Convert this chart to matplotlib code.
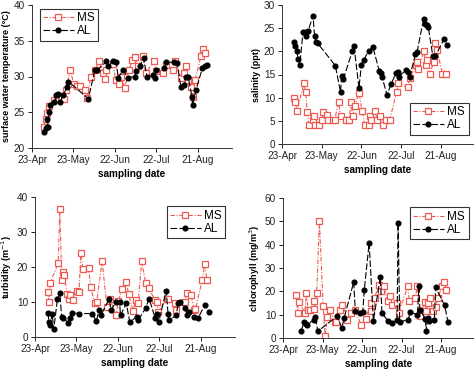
import matplotlib
matplotlib.use("Agg")
import matplotlib.pyplot as plt

plt.rcParams['font.family'] = ['Liberation Sans', 'DejaVu Sans']

# days since 23-Apr
tick_days = [0, 30, 60, 90, 120]
tick_labels = ['23-Apr', '23-May', '22-Jun', '22-Jul', '21-Aug']

# surface water temperature
temp_ms_d = [8.4, 10.1, 10.8, 12.5, 15.6, 18.5, 19.9, 21.1, 23.3, 24.7, 27.6, 30.5, 32.9, 34.8,
             38.4, 40.1, 42.5, 45.6, 48.7, 51.6, 52.8, 54.0, 58.8, 60.7, 62.9, 64.8, 67.2, 70.3,
             72.7, 74.4, 76.8, 80.4, 82.3, 88.8, 90.0, 94.8, 97.2, 102.0, 103.9, 108.0, 110.4,
             111.6, 112.8, 115.2, 116.4, 118.3, 122.4, 124.1, 125.5]
temp_ms = [23.0, 24.0, 24.9, 25.9, 26.7, 27.0, 26.7, 27.2, 26.8, 28.1, 30.9, 28.9, 28.7, 28.7,
           28.1, 27.0, 29.9, 30.9, 32.1, 30.5, 29.6, 30.9, 31.8, 29.5, 29.0, 30.0, 28.4, 30.9,
           32.3, 32.7, 31.4, 32.9, 30.5, 32.2, 30.7, 30.5, 31.6, 30.9, 32.1, 29.8, 30.5,
           31.4, 29.5, 28.6, 27.2, 29.5, 32.8, 33.8, 33.3]
temp_al_d = [8.9, 9.8, 10.8, 11.3, 12.5, 13.2, 16.3, 17.5, 19.2, 20.4, 22.8, 25.2, 26.4, 40.8,
             45.6, 47.3, 54.0, 55.2, 58.8, 61.2, 62.4, 66.0, 69.6, 74.4, 75.6, 78.0, 80.9, 83.3,
             87.6, 89.3, 90.0, 96.0, 97.2, 103.2, 105.1, 108.0, 110.4, 111.6, 113.3, 115.9,
             116.4, 118.8, 123.6, 125.5, 127.2]
temp_al = [22.3, 22.8, 24.0, 23.0, 25.1, 26.0, 26.5, 27.4, 27.5, 26.5, 27.4, 28.5, 29.3, 26.9,
           30.9, 30.9, 32.1, 31.4, 32.1, 32.0, 29.8, 30.9, 29.8, 30.0, 30.7, 31.4, 32.6, 30.0,
           30.2, 29.8, 30.9, 31.2, 32.0, 32.0, 31.9, 28.5, 28.8, 30.0, 29.9, 27.2,
           26.0, 28.1, 31.2, 31.5, 31.6]

# salinity
sal_ms_d = [9.3, 10.0, 11.2, 16.6, 17.8, 19.0, 20.3, 23.2, 24.4, 25.1, 27.6, 30.5, 31.2, 33.7,
            34.9, 38.5, 39.8, 42.7, 44.2, 48.3, 50.8, 52.0, 53.4, 54.9, 58.1, 60.5, 62.5, 65.4,
            66.6, 67.3, 70.3, 72.0, 73.9, 76.4, 78.8, 81.3, 86.6, 87.8, 95.2, 96.4, 101.3, 102.0,
            103.0, 107.4, 108.6, 109.8, 111.5, 114.7, 115.9, 117.1, 121.2, 123.6]
sal_ms = [10.0, 9.1, 7.1, 13.1, 11.3, 7.0, 4.1, 5.2, 6.0, 4.1, 4.1, 5.2, 7.0, 6.3,
          5.2, 5.2, 5.2, 9.1, 6.0, 5.2, 5.2, 9.1, 6.0, 8.1, 11.1, 7.1, 4.1, 4.1,
          6.0, 5.2, 7.1, 5.2, 6.0, 4.1, 5.2, 5.2, 11.2, 13.1, 12.2, 14.2, 17.1, 17.8,
          16.1, 20.1, 17.1, 18.1, 15.1, 17.8, 21.9, 20.3, 15.1, 15.1]
sal_al_d = [9.3, 10.0, 11.0, 12.4, 13.4, 15.9, 17.8, 18.5, 19.8, 23.4, 24.6, 25.6, 27.1, 40.3,
            44.2, 45.1, 46.4, 53.2, 54.4, 58.1, 60.0, 61.7, 65.4, 68.6, 73.4, 74.4, 75.6, 79.3,
            82.5, 86.1, 87.4, 88.1, 93.9, 95.2, 96.4, 100.8, 102.0, 106.9, 108.1, 109.3, 110.5,
            113.9, 115.9, 122.2, 124.7]
sal_al = [22.1, 21.2, 20.1, 18.3, 17.1, 24.2, 23.3, 24.2, 24.4, 27.7, 23.3, 22.1, 21.7, 16.9,
          11.2, 14.7, 14.1, 20.1, 21.2, 12.1, 17.1, 18.1, 20.1, 21.0, 15.8, 15.3, 14.4, 10.6,
          13.0, 15.3, 15.6, 14.5, 16.0, 15.6, 14.4, 19.4, 19.9, 26.9, 25.9, 25.7, 25.2,
          19.0, 19.0, 22.6, 21.4]

# turbidity
turb_ms_d = [9.4, 10.1, 11.1, 16.8, 18.0, 19.3, 20.5, 21.0, 23.5, 24.7, 25.4, 27.4, 30.4, 31.9,
             33.3, 34.8, 38.8, 40.3, 43.2, 44.7, 48.7, 52.1, 54.1, 58.8, 60.5, 63.0, 66.2, 67.9,
             71.1, 72.9, 74.8, 77.3, 80.3, 82.3, 87.2, 88.4, 89.2, 95.8, 96.5, 101.5, 102.5,
             109.0, 110.2, 113.1, 115.6, 116.3, 121.3, 123.0, 124.7]
turb_ms = [12.9, 10.0, 15.5, 21.1, 36.7, 16.3, 18.7, 17.7, 12.2, 10.8, 11.9, 10.5, 13.1, 12.9,
           23.9, 19.4, 19.8, 14.4, 9.6, 10.0, 21.7, 8.6, 11.0, 6.4, 10.2, 13.7, 15.8, 12.2,
           7.4, 10.5, 9.6, 21.7, 15.3, 13.9, 10.5, 9.9, 7.2, 11.0, 10.8, 9.6, 7.7,
           10.0, 12.7, 12.0, 7.7, 8.0, 16.3, 20.9, 16.3]
turb_al_d = [9.4, 10.1, 11.1, 12.4, 13.6, 16.3, 18.0, 19.3, 20.5, 24.2, 25.4, 26.7, 31.6, 41.5,
             44.5, 46.4, 47.7, 53.8, 55.1, 58.8, 61.3, 62.0, 66.2, 68.7, 73.6, 74.8, 80.3, 82.7,
             87.2, 88.4, 89.7, 95.1, 96.5, 97.1, 102.5, 103.7, 104.9, 109.0, 110.2, 111.9,
             115.6, 118.1, 123.0, 126.2]
turb_al = [6.9, 4.3, 3.5, 6.7, 2.2, 11.0, 12.7, 5.7, 5.3, 4.1, 5.3, 7.0, 6.7, 6.7,
           4.5, 7.7, 6.2, 10.8, 7.7, 10.0, 9.9, 6.2, 9.6, 4.3, 5.7, 4.8, 8.3, 11.0,
           5.3, 6.7, 4.3, 13.2, 6.5, 4.8, 6.2, 9.6, 10.0, 8.3, 6.2, 7.2,
           5.7, 5.3, 9.1, 7.2]

# chlorophyll
chl_ms_d = [10.0, 11.2, 12.2, 16.6, 17.8, 19.0, 20.7, 23.2, 23.9, 25.6, 27.6, 30.5, 32.0, 33.7,
            35.4, 39.3, 40.5, 43.4, 45.1, 48.8, 52.0, 54.4, 59.3, 63.0, 66.6, 67.1, 69.5, 72.7,
            74.4, 76.4, 79.5, 81.3, 82.5, 86.6, 87.8, 94.7, 96.0, 100.3, 102.0, 103.7, 107.6,
            108.6, 110.0, 111.8, 114.2, 115.9, 117.4, 120.8, 122.2, 123.9]
chl_ms = [18.6, 10.7, 15.4, 10.7, 19.3, 12.1, 12.1, 15.7, 12.6, 19.3, 50.3, 13.6, 0.7, 8.9,
          12.1, 6.9, 6.9, 12.1, 14.3, 7.9, 10.7, 12.1, 5.7, 8.3, 15.0, 11.7, 17.1, 22.9,
          20.0, 22.1, 15.7, 17.9, 14.3, 15.0, 10.7, 22.1, 15.7, 17.1, 22.1, 9.3, 15.4,
          11.4, 15.0, 17.1, 11.4, 13.1, 17.1, 22.1, 24.0, 20.7]
chl_al_d = [13.7, 16.1, 17.3, 18.3, 23.2, 24.6, 26.4, 41.0, 44.7, 46.4, 53.7, 54.9, 58.1, 60.5,
            61.7, 65.4, 68.6, 73.9, 75.1, 80.0, 82.5, 86.6, 87.4, 88.6, 95.2, 96.4, 102.0,
            103.2, 103.9, 108.1, 108.6, 109.8, 111.0, 114.9, 115.9, 122.7, 125.2]
chl_al = [2.9, 6.9, 6.0, 5.4, 7.9, 8.9, 2.9, 9.3, 4.3, 8.6, 24.0, 11.4, 10.7, 11.0,
          20.7, 40.7, 7.4, 26.0, 10.7, 7.1, 6.4, 7.9, 49.3, 6.9, 7.9, 11.1, 10.0,
          22.1, 12.1, 8.3, 2.9, 8.6, 7.1, 7.9, 21.7, 14.0, 6.9]

RED = '#ee5a52'

fig = plt.figure(figsize=(4.74, 3.70), dpi=100)

def panel(rect, ms_d, ms, al_d, al, ylim, yticks, ylabel, legend_loc, bbox):
    ax = fig.add_axes(rect)
    ax.plot(ms_d, ms, color=RED, ls=(0, (4, 1.5, 1, 1.5)), lw=0.8, marker='s', ms=4.3,
            mfc='white', mec=RED, mew=0.9, label='MS')
    ax.plot(al_d, al, color='black', ls=(0, (6, 2)), lw=0.8, marker='o', ms=3.4,
            mfc='black', mec='black', label='AL')
    ax.set_xlim(0, 145)
    ax.set_ylim(*ylim)
    ax.set_xticks(tick_days)
    ax.set_xticklabels(tick_labels)
    ax.set_yticks(yticks)
    for s in ['top', 'right']:
        ax.spines[s].set_visible(False)
    for s in ['left', 'bottom']:
        ax.spines[s].set_linewidth(0.7)
        ax.spines[s].set_color('#333333')
    ax.tick_params(direction='out', length=3, width=0.7, labelsize=7.2, pad=2, colors='#222222')
    ax.set_xlabel('sampling date', fontsize=7.2, fontweight='bold', labelpad=3)
    ax.set_ylabel(ylabel, fontsize=6.5, fontweight='bold', labelpad=2)
    leg = ax.legend(loc=legend_loc, bbox_to_anchor=bbox, fontsize=8.5, frameon=True,
                    fancybox=False, edgecolor='black', handlelength=2.6, borderpad=0.3,
                    labelspacing=0.1, handletextpad=0.3, borderaxespad=0.3)
    leg.get_frame().set_linewidth(0.8)
    return ax

W, H = 474.0, 370.0
def rect(l, t, r, b):
    return [l / W, 1 - b / H, (r - l) / W, (b - t) / H]

panel(rect(32, 5, 232, 148), temp_ms_d, temp_ms, temp_al_d, temp_al, (20, 40),
      [20, 25, 30, 35, 40], 'surface water temperature (°C)', 'upper left', (0.02, 1.0))
panel(rect(282, 5, 474, 144), sal_ms_d, sal_ms, sal_al_d, sal_al, (0, 30),
      [0, 5, 10, 15, 20, 25, 30], 'salinity (ppt)', 'lower right', (0.99, 0.04))
panel(rect(35, 197, 235, 337), turb_ms_d, turb_ms, turb_al_d, turb_al, (0, 40),
      [0, 10, 20, 30, 40], 'turbidity (m$^{-1}$)', 'upper right', (0.97, 0.96))
panel(rect(283, 198, 474, 338), chl_ms_d, chl_ms, chl_al_d, chl_al, (0, 60),
      [0, 10, 20, 30, 40, 50, 60], 'chlorophyll (mg/m$^3$)', 'upper right', (0.99, 0.96))

fig.savefig('out.png', dpi=100)
